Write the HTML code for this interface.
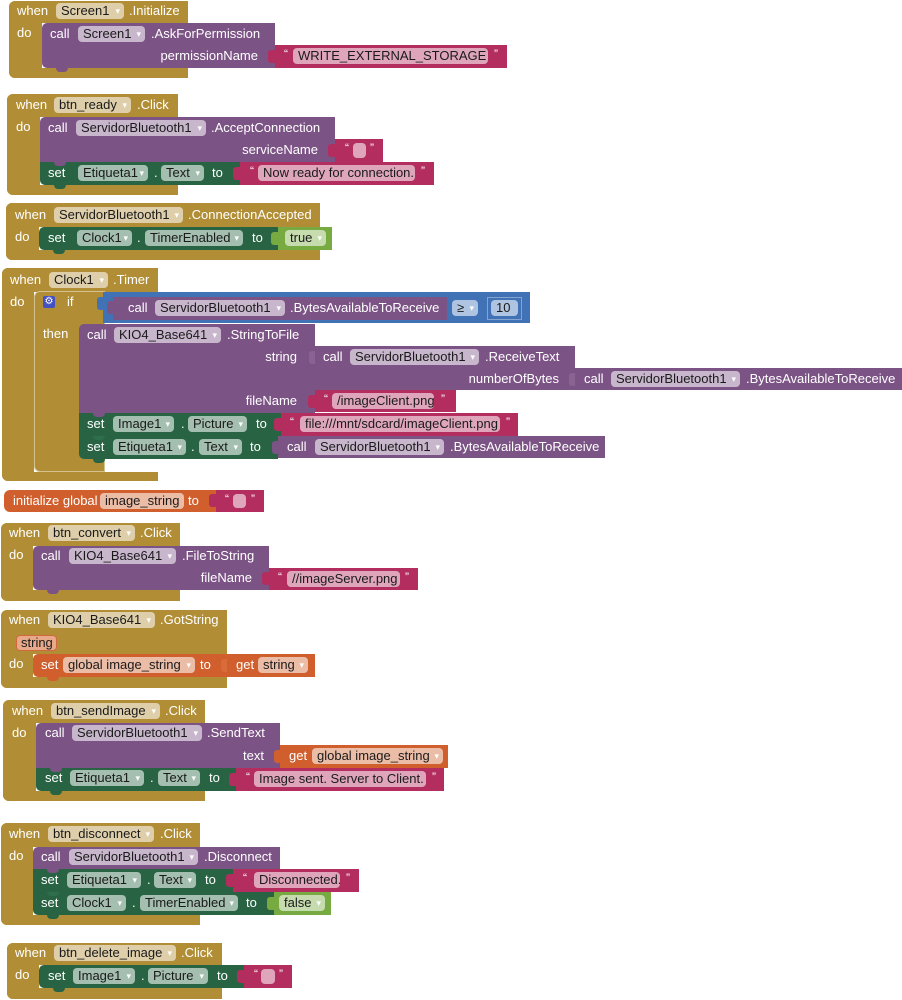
<!DOCTYPE html>
<html><head><meta charset="utf-8"><style>
body{margin:0;width:902px;height:1000px;background:#fff;position:relative;overflow:hidden;font-family:"Liberation Sans",Arial,sans-serif}
div{position:absolute;box-sizing:border-box}
.g{background:#B18E35}
.p{background:#7C5385}
.k{background:#B32D5E}
.d{background:#286443}
.l{background:#77AB41}
.u{background:#4272B6}
.o{background:#D05F2D}
.t{color:#fff;font-size:13px;line-height:14px;white-space:nowrap}
.r{text-align:right;left:0}
.f{height:16px;border-radius:4px;background:rgba(255,255,255,.58);color:#1a1a1a;font-size:13px;line-height:16px;padding-left:5px;white-space:nowrap;overflow:hidden}
.f i{position:absolute;right:4px;top:0;font-style:normal;font-size:9px;color:rgba(255,255,255,.95)}
.q{color:#fff;font-size:12px;line-height:12px}
.tab{width:7px;height:13px;border-radius:3px 0 0 3px}
.bm{width:12px;height:4px;border-radius:0 0 5px 5px}
</style></head><body>

<!-- Block 1: Screen1.Initialize -->
<div class="g" style="left:9px;top:1px;width:33px;height:77px;border-radius:6px 0 0 6px"></div>
<div class="g" style="left:9px;top:1px;width:179px;height:22px;border-radius:6px 0 0 0"></div>
<div class="g" style="left:9px;top:68px;width:179px;height:10px;border-radius:0 0 0 6px"></div>
<div class="t" style="left:17px;top:4px">when</div>
<div class="f" style="left:56px;top:3px;width:68px">Screen1<i>▾</i></div>
<div class="t" style="left:129px;top:4px">.Initialize</div>
<div class="t" style="left:17px;top:26px">do</div>
<div class="p" style="left:42px;top:23px;width:233px;height:45px;border-radius:5px 0 0 5px"></div>
<div class="p bm" style="left:56px;top:68px"></div>
<div class="t" style="left:50px;top:27px">call</div>
<div class="f" style="left:78px;top:26px;width:67px">Screen1<i>▾</i></div>
<div class="t" style="left:151px;top:27px">.AskForPermission</div>
<div class="t r" style="width:258px;top:49px">permissionName</div>
<div class="k tab" style="left:268px;top:50px"></div>
<div class="k" style="left:275px;top:45px;width:232px;height:23px"></div>
<div class="q" style="left:284px;top:48px">“</div>
<div class="f" style="left:293px;top:48px;width:195px">WRITE_EXTERNAL_STORAGE</div>
<div class="q" style="left:494px;top:48px">”</div>

<!-- Block 2: btn_ready.Click -->
<div class="g" style="left:7px;top:94px;width:33px;height:101px;border-radius:6px 0 0 6px"></div>
<div class="g" style="left:7px;top:94px;width:171px;height:23px;border-radius:6px 0 0 0"></div>
<div class="g" style="left:7px;top:185px;width:171px;height:10px;border-radius:0 0 0 6px"></div>
<div class="t" style="left:16px;top:98px">when</div>
<div class="f" style="left:54px;top:97px;width:77px">btn_ready<i>▾</i></div>
<div class="t" style="left:137px;top:98px">.Click</div>
<div class="t" style="left:16px;top:120px">do</div>
<div class="p" style="left:40px;top:117px;width:295px;height:45px;border-radius:5px 0 0 0"></div>
<div class="t" style="left:48px;top:121px">call</div>
<div class="f" style="left:76px;top:120px;width:130px">ServidorBluetooth1<i>▾</i></div>
<div class="t" style="left:211px;top:121px">.AcceptConnection</div>
<div class="t r" style="width:318px;top:143px">serviceName</div>
<div class="k tab" style="left:328px;top:144px"></div>
<div class="k" style="left:335px;top:139px;width:48px;height:23px"></div>
<div class="q" style="left:345px;top:142px">“</div>
<div class="f" style="left:353px;top:143px;width:13px;height:15px"></div>
<div class="q" style="left:370px;top:142px">”</div>
<div class="d" style="left:40px;top:162px;width:200px;height:23px;border-radius:0 0 0 5px"></div>
<div class="p bm" style="left:54px;top:162px"></div>
<div class="d bm" style="left:54px;top:185px"></div>
<div class="t" style="left:48px;top:166px">set</div>
<div class="f" style="left:78px;top:165px;width:70px">Etiqueta1<i>▾</i></div>
<div class="t" style="left:154px;top:166px">.</div>
<div class="f" style="left:161px;top:165px;width:43px">Text<i>▾</i></div>
<div class="t" style="left:212px;top:166px">to</div>
<div class="k tab" style="left:233px;top:167px"></div>
<div class="k" style="left:240px;top:162px;width:194px;height:23px"></div>
<div class="q" style="left:250px;top:165px">“</div>
<div class="f" style="left:258px;top:165px;width:157px">Now ready for connection.</div>
<div class="q" style="left:421px;top:165px">”</div>

<!-- Block 3: ConnectionAccepted -->
<div class="g" style="left:6px;top:203px;width:33px;height:57px;border-radius:6px 0 0 6px"></div>
<div class="g" style="left:6px;top:203px;width:314px;height:24px;border-radius:6px 0 0 0"></div>
<div class="g" style="left:6px;top:250px;width:314px;height:10px;border-radius:0 0 0 6px"></div>
<div class="t" style="left:15px;top:208px">when</div>
<div class="f" style="left:54px;top:207px;width:129px">ServidorBluetooth1<i>▾</i></div>
<div class="t" style="left:188px;top:208px">.ConnectionAccepted</div>
<div class="t" style="left:15px;top:230px">do</div>
<div class="d" style="left:39px;top:227px;width:239px;height:23px;border-radius:5px 0 0 5px"></div>
<div class="d bm" style="left:53px;top:250px"></div>
<div class="t" style="left:48px;top:231px">set</div>
<div class="f" style="left:77px;top:230px;width:55px">Clock1<i>▾</i></div>
<div class="t" style="left:137px;top:231px">.</div>
<div class="f" style="left:145px;top:230px;width:98px">TimerEnabled<i>▾</i></div>
<div class="t" style="left:252px;top:231px">to</div>
<div class="l tab" style="left:271px;top:232px"></div>
<div class="l" style="left:278px;top:227px;width:54px;height:23px"></div>
<div class="f" style="left:285px;top:230px;width:41px">true<i>▾</i></div>

<!-- Block 4: Clock1.Timer -->
<div class="g" style="left:2px;top:268px;width:32px;height:213px;border-radius:6px 0 0 6px"></div>
<div class="g" style="left:2px;top:268px;width:156px;height:24px;border-radius:6px 0 0 0"></div>
<div class="g" style="left:2px;top:472px;width:156px;height:9px;border-radius:0 0 0 6px"></div>
<div class="t" style="left:10px;top:273px">when</div>
<div class="f" style="left:49px;top:272px;width:59px">Clock1<i>▾</i></div>
<div class="t" style="left:113px;top:273px">.Timer</div>
<div class="t" style="left:10px;top:295px">do</div>
<div class="g" style="left:34px;top:291px;width:71px;height:181px;border-radius:6px 0 0 6px;border:1px solid rgba(255,255,255,.45)"></div>
<div style="left:43px;top:296px;width:12px;height:12px;background:#4451c2;border-radius:2px;color:#fff;font-size:10px;line-height:12px;text-align:center">⚙</div>
<div class="t" style="left:67px;top:295px">if</div>
<div class="t" style="left:43px;top:327px">then</div>
<div class="u tab" style="left:97px;top:297px"></div>
<div class="u" style="left:103px;top:292px;width:427px;height:31px"></div>
<div class="p tab" style="left:107px;top:301px"></div>
<div class="p" style="left:113px;top:297px;width:334px;height:23px"></div>
<div class="t" style="left:128px;top:301px">call</div>
<div class="f" style="left:155px;top:300px;width:130px">ServidorBluetooth1<i>▾</i></div>
<div class="t" style="left:290px;top:301px">.BytesAvailableToReceive</div>
<div class="f" style="left:452px;top:300px;width:26px">≥<i>▾</i></div>
<div class="u" style="left:487px;top:297px;width:35px;height:23px;border:1px solid rgba(255,255,255,.35)"></div>
<div class="f" style="left:491px;top:300px;width:27px">10</div>
<div class="p" style="left:79px;top:324px;width:236px;height:89px;border-radius:5px 0 0 0"></div>
<div class="t" style="left:87px;top:328px">call</div>
<div class="f" style="left:114px;top:327px;width:107px">KIO4_Base641<i>▾</i></div>
<div class="t" style="left:227px;top:328px">.StringToFile</div>
<div class="t r" style="width:297px;top:350px">string</div>
<div class="p tab" style="left:309px;top:351px;background:#8a6392"></div>
<div class="p" style="left:315px;top:346px;width:260px;height:44px"></div>
<div class="t" style="left:323px;top:350px">call</div>
<div class="f" style="left:350px;top:349px;width:129px">ServidorBluetooth1<i>▾</i></div>
<div class="t" style="left:485px;top:350px">.ReceiveText</div>
<div class="t r" style="width:559px;top:372px">numberOfBytes</div>
<div class="p tab" style="left:569px;top:373px;background:#8a6392"></div>
<div class="p" style="left:575px;top:368px;width:327px;height:22px"></div>
<div class="t" style="left:584px;top:372px">call</div>
<div class="f" style="left:611px;top:371px;width:129px">ServidorBluetooth1<i>▾</i></div>
<div class="t" style="left:746px;top:372px">.BytesAvailableToReceive</div>
<div class="t r" style="width:297px;top:394px">fileName</div>
<div class="k tab" style="left:308px;top:395px"></div>
<div class="k" style="left:315px;top:390px;width:141px;height:22px"></div>
<div class="q" style="left:324px;top:393px">“</div>
<div class="f" style="left:332px;top:393px;width:102px">/imageClient.png</div>
<div class="q" style="left:441px;top:393px">”</div>
<div class="d" style="left:79px;top:413px;width:202px;height:23px"></div>
<div class="p bm" style="left:93px;top:413px"></div>
<div class="t" style="left:87px;top:417px">set</div>
<div class="f" style="left:113px;top:416px;width:61px">Image1<i>▾</i></div>
<div class="t" style="left:181px;top:417px">.</div>
<div class="f" style="left:188px;top:416px;width:59px">Picture<i>▾</i></div>
<div class="t" style="left:256px;top:417px">to</div>
<div class="k tab" style="left:274px;top:418px"></div>
<div class="k" style="left:281px;top:413px;width:237px;height:23px"></div>
<div class="q" style="left:290px;top:416px">“</div>
<div class="f" style="left:300px;top:416px;width:200px">file:///mnt/sdcard/imageClient.png</div>
<div class="q" style="left:506px;top:416px">”</div>
<div class="d" style="left:79px;top:436px;width:199px;height:23px;border-radius:0 0 0 5px"></div>
<div class="d bm" style="left:93px;top:436px;background:#2f6e4b"></div>
<div class="d bm" style="left:93px;top:459px"></div>
<div class="t" style="left:87px;top:440px">set</div>
<div class="f" style="left:113px;top:439px;width:73px">Etiqueta1<i>▾</i></div>
<div class="t" style="left:191px;top:440px">.</div>
<div class="f" style="left:199px;top:439px;width:43px">Text<i>▾</i></div>
<div class="t" style="left:250px;top:440px">to</div>
<div class="p tab" style="left:272px;top:441px"></div>
<div class="p" style="left:278px;top:436px;width:327px;height:22px"></div>
<div class="t" style="left:287px;top:440px">call</div>
<div class="f" style="left:315px;top:439px;width:129px">ServidorBluetooth1<i>▾</i></div>
<div class="t" style="left:450px;top:440px">.BytesAvailableToReceive</div>

<!-- Block 5: initialize global -->
<div class="o" style="left:4px;top:490px;width:212px;height:22px;border-radius:6px 0 0 6px"></div>
<div class="t" style="left:13px;top:494px">initialize global</div>
<div class="f" style="left:100px;top:493px;width:84px">image_string</div>
<div class="t" style="left:188px;top:494px">to</div>
<div class="k tab" style="left:209px;top:494px"></div>
<div class="k" style="left:216px;top:490px;width:48px;height:22px"></div>
<div class="q" style="left:225px;top:493px">“</div>
<div class="f" style="left:233px;top:494px;width:13px;height:14px"></div>
<div class="q" style="left:251px;top:493px">”</div>

<!-- Block 6: btn_convert.Click -->
<div class="g" style="left:1px;top:523px;width:32px;height:78px;border-radius:6px 0 0 6px"></div>
<div class="g" style="left:1px;top:523px;width:179px;height:23px;border-radius:6px 0 0 0"></div>
<div class="g" style="left:1px;top:590px;width:179px;height:11px;border-radius:0 0 0 6px"></div>
<div class="t" style="left:9px;top:526px">when</div>
<div class="f" style="left:48px;top:525px;width:87px">btn_convert<i>▾</i></div>
<div class="t" style="left:140px;top:526px">.Click</div>
<div class="t" style="left:9px;top:548px">do</div>
<div class="p" style="left:33px;top:546px;width:236px;height:44px;border-radius:5px 0 0 5px"></div>
<div class="p bm" style="left:47px;top:590px"></div>
<div class="t" style="left:41px;top:549px">call</div>
<div class="f" style="left:69px;top:548px;width:107px">KIO4_Base641<i>▾</i></div>
<div class="t" style="left:182px;top:549px">.FileToString</div>
<div class="t r" style="width:252px;top:571px">fileName</div>
<div class="k tab" style="left:262px;top:572px"></div>
<div class="k" style="left:269px;top:568px;width:149px;height:22px"></div>
<div class="q" style="left:278px;top:571px">“</div>
<div class="f" style="left:287px;top:571px;width:113px">//imageServer.png</div>
<div class="q" style="left:405px;top:571px">”</div>

<!-- Block 7: KIO4_Base641.GotString -->
<div class="g" style="left:1px;top:610px;width:32px;height:78px;border-radius:6px 0 0 6px"></div>
<div class="g" style="left:1px;top:610px;width:226px;height:44px;border-radius:6px 0 0 0"></div>
<div class="g" style="left:1px;top:677px;width:226px;height:11px;border-radius:0 0 0 6px"></div>
<div class="t" style="left:9px;top:613px">when</div>
<div class="f" style="left:48px;top:612px;width:107px">KIO4_Base641<i>▾</i></div>
<div class="t" style="left:160px;top:613px">.GotString</div>
<div class="f" style="left:16px;top:635px;width:41px;background:#E7A98A;border:1px solid #D06A3D;line-height:14px;padding-left:4px">string</div>
<div class="t" style="left:9px;top:657px">do</div>
<div class="o" style="left:33px;top:654px;width:194px;height:23px;border-radius:5px 0 0 5px"></div>
<div class="o bm" style="left:47px;top:677px"></div>
<div class="t" style="left:41px;top:658px">set</div>
<div class="f" style="left:63px;top:657px;width:132px">global image_string<i>▾</i></div>
<div class="t" style="left:200px;top:658px">to</div>
<div class="o tab" style="left:221px;top:659px;background:#d96a3a"></div>
<div class="o" style="left:227px;top:654px;width:88px;height:23px"></div>
<div class="t" style="left:236px;top:658px">get</div>
<div class="f" style="left:258px;top:657px;width:50px">string<i>▾</i></div>

<!-- Block 8: btn_sendImage.Click -->
<div class="g" style="left:3px;top:700px;width:33px;height:101px;border-radius:6px 0 0 6px"></div>
<div class="g" style="left:3px;top:700px;width:202px;height:23px;border-radius:6px 0 0 0"></div>
<div class="g" style="left:3px;top:791px;width:202px;height:10px;border-radius:0 0 0 6px"></div>
<div class="t" style="left:12px;top:704px">when</div>
<div class="f" style="left:51px;top:703px;width:109px">btn_sendImage<i>▾</i></div>
<div class="t" style="left:165px;top:704px">.Click</div>
<div class="t" style="left:12px;top:726px">do</div>
<div class="p" style="left:36px;top:723px;width:244px;height:45px;border-radius:5px 0 0 0"></div>
<div class="t" style="left:45px;top:726px">call</div>
<div class="f" style="left:72px;top:725px;width:130px">ServidorBluetooth1<i>▾</i></div>
<div class="t" style="left:207px;top:726px">.SendText</div>
<div class="t r" style="width:264px;top:749px">text</div>
<div class="o tab" style="left:274px;top:750px"></div>
<div class="o" style="left:280px;top:745px;width:168px;height:23px"></div>
<div class="t" style="left:289px;top:749px">get</div>
<div class="f" style="left:312px;top:748px;width:131px">global image_string<i>▾</i></div>
<div class="d" style="left:36px;top:768px;width:200px;height:23px;border-radius:0 0 0 5px"></div>
<div class="p bm" style="left:50px;top:768px"></div>
<div class="d bm" style="left:50px;top:791px"></div>
<div class="t" style="left:45px;top:771px">set</div>
<div class="f" style="left:70px;top:770px;width:74px">Etiqueta1<i>▾</i></div>
<div class="t" style="left:150px;top:771px">.</div>
<div class="f" style="left:158px;top:770px;width:42px">Text<i>▾</i></div>
<div class="t" style="left:209px;top:771px">to</div>
<div class="k tab" style="left:229px;top:773px"></div>
<div class="k" style="left:236px;top:768px;width:208px;height:23px"></div>
<div class="q" style="left:246px;top:771px">“</div>
<div class="f" style="left:254px;top:771px;width:172px">Image sent. Server to Client.</div>
<div class="q" style="left:432px;top:771px">”</div>

<!-- Block 9: btn_disconnect.Click -->
<div class="g" style="left:1px;top:823px;width:32px;height:102px;border-radius:6px 0 0 6px"></div>
<div class="g" style="left:1px;top:823px;width:199px;height:24px;border-radius:6px 0 0 0"></div>
<div class="g" style="left:1px;top:915px;width:199px;height:10px;border-radius:0 0 0 6px"></div>
<div class="t" style="left:9px;top:827px">when</div>
<div class="f" style="left:48px;top:826px;width:106px">btn_disconnect<i>▾</i></div>
<div class="t" style="left:160px;top:827px">.Click</div>
<div class="t" style="left:9px;top:849px">do</div>
<div class="p" style="left:33px;top:847px;width:247px;height:22px;border-radius:5px 0 0 0"></div>
<div class="t" style="left:41px;top:850px">call</div>
<div class="f" style="left:69px;top:849px;width:129px">ServidorBluetooth1<i>▾</i></div>
<div class="t" style="left:204px;top:850px">.Disconnect</div>
<div class="d" style="left:33px;top:869px;width:200px;height:23px"></div>
<div class="p bm" style="left:47px;top:869px"></div>
<div class="t" style="left:41px;top:873px">set</div>
<div class="f" style="left:67px;top:872px;width:74px">Etiqueta1<i>▾</i></div>
<div class="t" style="left:147px;top:873px">.</div>
<div class="f" style="left:154px;top:872px;width:42px">Text<i>▾</i></div>
<div class="t" style="left:205px;top:873px">to</div>
<div class="k tab" style="left:226px;top:874px"></div>
<div class="k" style="left:233px;top:869px;width:126px;height:23px"></div>
<div class="q" style="left:243px;top:872px">“</div>
<div class="f" style="left:254px;top:872px;width:86px">Disconnected.</div>
<div class="q" style="left:346px;top:872px">”</div>
<div class="d" style="left:33px;top:892px;width:241px;height:23px;border-radius:0 0 0 5px"></div>
<div class="d bm" style="left:47px;top:892px;background:#2f6e4b"></div>
<div class="d bm" style="left:47px;top:915px"></div>
<div class="t" style="left:41px;top:896px">set</div>
<div class="f" style="left:67px;top:895px;width:59px">Clock1<i>▾</i></div>
<div class="t" style="left:132px;top:896px">.</div>
<div class="f" style="left:140px;top:895px;width:98px">TimerEnabled<i>▾</i></div>
<div class="t" style="left:246px;top:896px">to</div>
<div class="l tab" style="left:267px;top:897px"></div>
<div class="l" style="left:274px;top:892px;width:57px;height:23px"></div>
<div class="f" style="left:279px;top:895px;width:46px">false<i>▾</i></div>

<!-- Block 10: btn_delete_image.Click -->
<div class="g" style="left:7px;top:943px;width:32px;height:56px;border-radius:6px 0 0 6px"></div>
<div class="g" style="left:7px;top:943px;width:215px;height:22px;border-radius:6px 0 0 0"></div>
<div class="g" style="left:7px;top:988px;width:215px;height:11px;border-radius:0 0 0 6px"></div>
<div class="t" style="left:15px;top:946px">when</div>
<div class="f" style="left:54px;top:945px;width:122px">btn_delete_image<i>▾</i></div>
<div class="t" style="left:181px;top:946px">.Click</div>
<div class="t" style="left:15px;top:968px">do</div>
<div class="d" style="left:39px;top:965px;width:205px;height:23px;border-radius:5px 0 0 5px"></div>
<div class="d bm" style="left:53px;top:988px"></div>
<div class="t" style="left:48px;top:969px">set</div>
<div class="f" style="left:73px;top:968px;width:62px">Image1<i>▾</i></div>
<div class="t" style="left:141px;top:969px">.</div>
<div class="f" style="left:148px;top:968px;width:60px">Picture<i>▾</i></div>
<div class="t" style="left:217px;top:969px">to</div>
<div class="k tab" style="left:237px;top:970px"></div>
<div class="k" style="left:244px;top:965px;width:48px;height:23px"></div>
<div class="q" style="left:254px;top:968px">“</div>
<div class="f" style="left:261px;top:969px;width:14px;height:15px"></div>
<div class="q" style="left:279px;top:968px">”</div>

</body></html>
